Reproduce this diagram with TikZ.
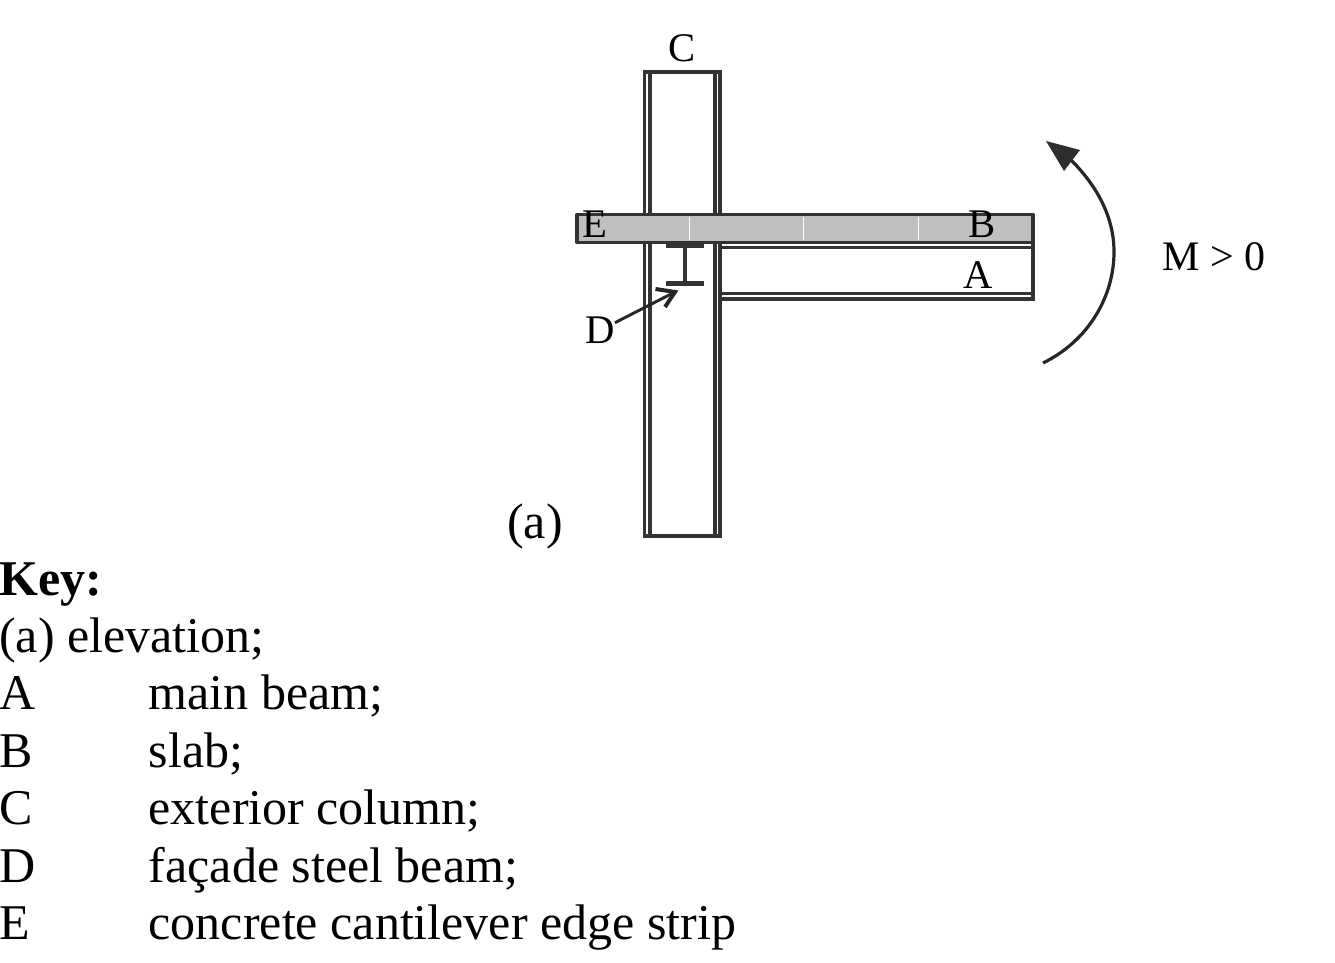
\documentclass[tikz,border=0pt]{standalone}
\usepackage{fontspec}
\setmainfont{Liberation Serif}
\begin{document}
\begin{tikzpicture}[x=0.75pt,y=-0.75pt,
  ln/.style={draw=black!80,line width=2.7pt},
  thin ln/.style={draw=black!80,line width=2.4pt},
  lab/.style={inner sep=0pt,anchor=base west,font=\fontsize{30.5}{32}\selectfont},
  key/.style={inner sep=0pt,anchor=base west,font=\fontsize{37.5}{40}\selectfont}]
\useasboundingbox (0,0) rectangle (1335,963);
\fill[white] (0,0) rectangle (1335,963);
% column
\draw[ln] (644.5,536) rectangle (720,72);
\draw[thin ln] (650,72) -- (650,536);
\draw[thin ln] (715,72) -- (715,536);
% main beam
\draw[ln] (720,299) -- (1033,299) -- (1033,242);
\draw[thin ln] (720,293.5) -- (1033,293.5);
\draw[thin ln] (720,247.5) -- (1033,247.5);
% slab
\draw[ln,fill=black!25,line join=round] (577,214.5) rectangle (1033,242.5);
\foreach \x in {689,803,918} \draw[white,line width=0.6pt] (\x,217) -- (\x,240);
% facade steel beam
\draw[ln,line width=3.2pt] (666,245.5) -- (704,245.5);
\draw[ln,line width=3.2pt] (666,283.5) -- (704,283.5);
\draw[ln,line width=3.2pt] (685,245) -- (685,283);
% labels
\node[lab] (lc) at (668,62) {C};
\node[lab] (le) at (582,238) {E};
\node[lab] (lb) at (968,238) {B};
\node[lab] (la) at (963,288) {A};
\node[lab] (ld) at (585,343) {D};
\node[lab,font=\fontsize{31.5}{33}\selectfont] (lm) at (1162,270) {M > 0};
% D arrow
\coordinate (dtip) at (675,292);
\draw[black!85,line width=2.2pt] (ld.east)+(0,-7) -- (dtip);
\draw[black!85,line width=3pt] (655.5,289) -- (dtip) -- (665,307);
% moment arrow
\coordinate (mstart) at (1043,363);
\coordinate (mend) at (1071,160);
\draw[black!85,line width=2.4pt] (mstart) .. controls (1088,341) and (1114,297) .. (1114,252) .. controls (1114,218) and (1098,187) .. (mend);
\fill[black!82] (1046,141) -- (1080,150) -- (1064,171) -- cycle;
% caption and key
\node[key] (cap) at (507,538) {(a)};
\node[key] (k0) at (-1,595) {\bfseries Key:};
\node[key] (k1) at (-1,652) {(a) elevation;};
\node[key] (k2) at (-1,709) {A};
\node[key] (t2) at (148.5,709) {main beam;};
\node[key] (k3) at (-1,767) {B};
\node[key] (t3) at (148.5,767) {slab;};
\node[key] (k4) at (-1,824) {C};
\node[key] (t4) at (148.5,824) {exterior column;};
\node[key] (k5) at (-1,882) {D};
\node[key] (t5) at (148.5,882) {façade steel beam;};
\node[key] (k6) at (-1,939) {E};
\node[key] (t6) at (148.5,939) {concrete cantilever edge strip};
\end{tikzpicture}
\end{document}
